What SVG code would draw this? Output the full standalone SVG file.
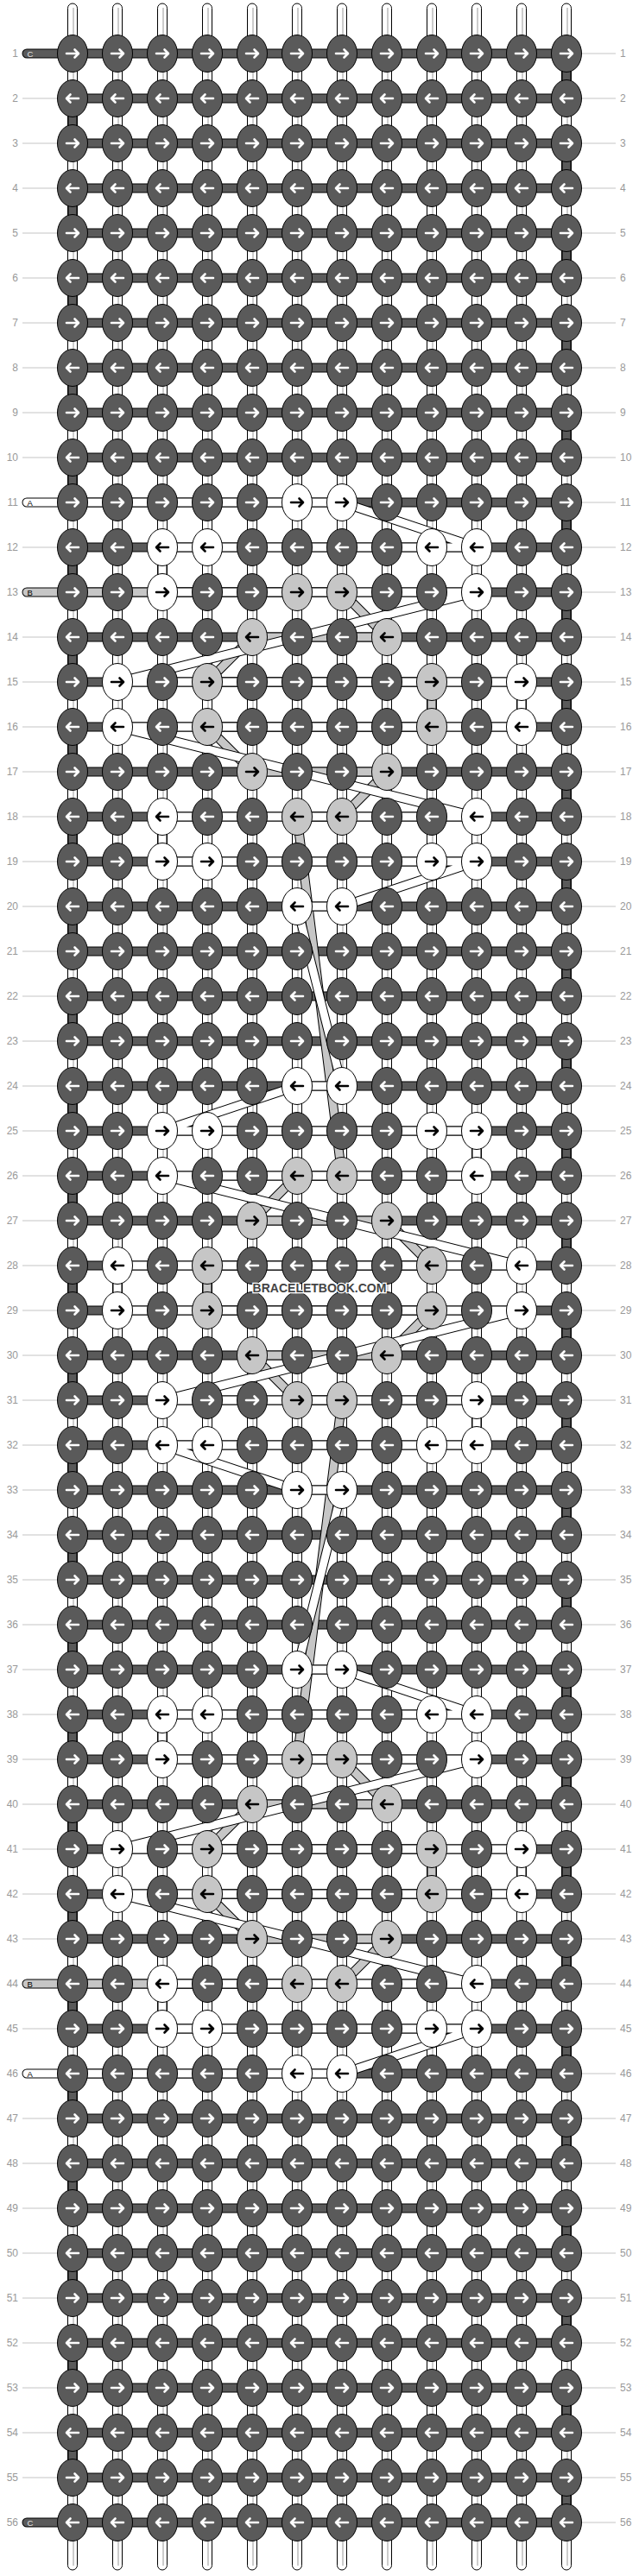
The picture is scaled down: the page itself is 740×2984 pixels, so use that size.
<svg xmlns="http://www.w3.org/2000/svg" width="740" height="2984" viewBox="0 0 740 2984">
<style>
.kd{fill:#5a5a5a;stroke:#000;stroke-width:1}
.kw{fill:#fff;stroke:#000;stroke-width:1}
.kg{fill:#c6c6c6;stroke:#000;stroke-width:1}
.aw{fill:none;stroke:#fff;stroke-width:2.6;stroke-linecap:round;stroke-linejoin:round}
.ab{fill:none;stroke:#000;stroke-width:2.6;stroke-linecap:round;stroke-linejoin:round}
.bo{fill:none;stroke:#000;stroke-width:11;stroke-linejoin:round;stroke-linecap:round}
.bf{fill:none;stroke-width:9;stroke-linejoin:round;stroke-linecap:round}
.lab{font-family:"Liberation Sans",Arial,sans-serif;font-size:12px;fill:#999}
.tl{font-family:"Liberation Sans",Arial,sans-serif;font-size:9.5px}
.ll{fill:none;stroke:#c4c4c4;stroke-width:1}
</style>
<defs>
<g id="vs"><rect x="-5.5" y="4" width="11" height="2973" rx="5.5" fill="#fff" stroke="#000"/><line x1="1" y1="9" x2="1" y2="2972" stroke="#bbb" stroke-width="1.5"/></g>
<g id="dR"><ellipse class="kd" rx="17.5" ry="21.5"/><path class="aw" d="M-7,0H6.5M2.5,-4.5L7,0L2.5,4.5"/></g>
<g id="dL"><ellipse class="kd" rx="17.5" ry="21.5"/><path class="aw" d="M7,0H-6.5M-2.5,-4.5L-7,0L-2.5,4.5"/></g>
<g id="wR"><ellipse class="kw" rx="17.5" ry="21.5"/><path class="ab" d="M-7,0H6.5M2.5,-4.5L7,0L2.5,4.5"/></g>
<g id="wL"><ellipse class="kw" rx="17.5" ry="21.5"/><path class="ab" d="M7,0H-6.5M-2.5,-4.5L-7,0L-2.5,4.5"/></g>
<g id="gR"><ellipse class="kg" rx="17.5" ry="21.5"/><path class="ab" d="M-7,0H6.5M2.5,-4.5L7,0L2.5,4.5"/></g>
<g id="gL"><ellipse class="kg" rx="17.5" ry="21.5"/><path class="ab" d="M7,0H-6.5M-2.5,-4.5L-7,0L-2.5,4.5"/></g>
<g id="DR"><use href="#dR" x="84"/><use href="#dR" x="136"/><use href="#dR" x="188"/><use href="#dR" x="240"/><use href="#dR" x="292"/><use href="#dR" x="344"/><use href="#dR" x="396"/><use href="#dR" x="448"/><use href="#dR" x="500"/><use href="#dR" x="552"/><use href="#dR" x="604"/><use href="#dR" x="656"/></g>
<g id="DL"><use href="#dL" x="84"/><use href="#dL" x="136"/><use href="#dL" x="188"/><use href="#dL" x="240"/><use href="#dL" x="292"/><use href="#dL" x="344"/><use href="#dL" x="396"/><use href="#dL" x="448"/><use href="#dL" x="500"/><use href="#dL" x="552"/><use href="#dL" x="604"/><use href="#dL" x="656"/></g>
<g id="S1R"><use href="#dR" x="84"/><use href="#dR" x="136"/><use href="#dR" x="188"/><use href="#dR" x="240"/><use href="#dR" x="292"/><use href="#wR" x="344"/><use href="#wR" x="396"/><use href="#dR" x="448"/><use href="#dR" x="500"/><use href="#dR" x="552"/><use href="#dR" x="604"/><use href="#dR" x="656"/></g>
<g id="S1L"><use href="#dL" x="84"/><use href="#dL" x="136"/><use href="#dL" x="188"/><use href="#dL" x="240"/><use href="#dL" x="292"/><use href="#wL" x="344"/><use href="#wL" x="396"/><use href="#dL" x="448"/><use href="#dL" x="500"/><use href="#dL" x="552"/><use href="#dL" x="604"/><use href="#dL" x="656"/></g>
<g id="S2R"><use href="#dR" x="84"/><use href="#dR" x="136"/><use href="#wR" x="188"/><use href="#wR" x="240"/><use href="#dR" x="292"/><use href="#dR" x="344"/><use href="#dR" x="396"/><use href="#dR" x="448"/><use href="#wR" x="500"/><use href="#wR" x="552"/><use href="#dR" x="604"/><use href="#dR" x="656"/></g>
<g id="S2L"><use href="#dL" x="84"/><use href="#dL" x="136"/><use href="#wL" x="188"/><use href="#wL" x="240"/><use href="#dL" x="292"/><use href="#dL" x="344"/><use href="#dL" x="396"/><use href="#dL" x="448"/><use href="#wL" x="500"/><use href="#wL" x="552"/><use href="#dL" x="604"/><use href="#dL" x="656"/></g>
<g id="S3R"><use href="#dR" x="84"/><use href="#dR" x="136"/><use href="#wR" x="188"/><use href="#dR" x="240"/><use href="#dR" x="292"/><use href="#gR" x="344"/><use href="#gR" x="396"/><use href="#dR" x="448"/><use href="#dR" x="500"/><use href="#wR" x="552"/><use href="#dR" x="604"/><use href="#dR" x="656"/></g>
<g id="S3L"><use href="#dL" x="84"/><use href="#dL" x="136"/><use href="#wL" x="188"/><use href="#dL" x="240"/><use href="#dL" x="292"/><use href="#gL" x="344"/><use href="#gL" x="396"/><use href="#dL" x="448"/><use href="#dL" x="500"/><use href="#wL" x="552"/><use href="#dL" x="604"/><use href="#dL" x="656"/></g>
<g id="S4R"><use href="#dR" x="84"/><use href="#dR" x="136"/><use href="#dR" x="188"/><use href="#dR" x="240"/><use href="#gR" x="292"/><use href="#dR" x="344"/><use href="#dR" x="396"/><use href="#gR" x="448"/><use href="#dR" x="500"/><use href="#dR" x="552"/><use href="#dR" x="604"/><use href="#dR" x="656"/></g>
<g id="S4L"><use href="#dL" x="84"/><use href="#dL" x="136"/><use href="#dL" x="188"/><use href="#dL" x="240"/><use href="#gL" x="292"/><use href="#dL" x="344"/><use href="#dL" x="396"/><use href="#gL" x="448"/><use href="#dL" x="500"/><use href="#dL" x="552"/><use href="#dL" x="604"/><use href="#dL" x="656"/></g>
<g id="S5R"><use href="#dR" x="84"/><use href="#wR" x="136"/><use href="#dR" x="188"/><use href="#gR" x="240"/><use href="#dR" x="292"/><use href="#dR" x="344"/><use href="#dR" x="396"/><use href="#dR" x="448"/><use href="#gR" x="500"/><use href="#dR" x="552"/><use href="#wR" x="604"/><use href="#dR" x="656"/></g>
<g id="S5L"><use href="#dL" x="84"/><use href="#wL" x="136"/><use href="#dL" x="188"/><use href="#gL" x="240"/><use href="#dL" x="292"/><use href="#dL" x="344"/><use href="#dL" x="396"/><use href="#dL" x="448"/><use href="#gL" x="500"/><use href="#dL" x="552"/><use href="#wL" x="604"/><use href="#dL" x="656"/></g>
</defs>
<rect width="740" height="2984" fill="#fff"/>
<g id="vertical-strings">
<use href="#vs" x="84"/><use href="#vs" x="136"/><use href="#vs" x="188"/><use href="#vs" x="240"/><use href="#vs" x="292"/><use href="#vs" x="344"/><use href="#vs" x="396"/><use href="#vs" x="448"/><use href="#vs" x="500"/><use href="#vs" x="552"/><use href="#vs" x="604"/><use href="#vs" x="656"/>
</g>
<g id="label-lines">
<path class="ll" d="M26,114H66M26,166H66M26,218H66M26,270H66M26,322H66M26,374H66M26,426H66M26,478H66M26,530H66M26,634H66M26,738H66M26,790H66M26,842H66M26,894H66M26,946H66M26,998H66M26,1050H66M26,1102H66M26,1154H66M26,1206H66M26,1258H66M26,1310H66M26,1362H66M26,1414H66M26,1466H66M26,1518H66M26,1570H66M26,1622H66M26,1674H66M26,1726H66M26,1778H66M26,1830H66M26,1882H66M26,1934H66M26,1986H66M26,2038H66M26,2090H66M26,2142H66M26,2194H66M26,2246H66M26,2350H66M26,2454H66M26,2506H66M26,2558H66M26,2610H66M26,2662H66M26,2714H66M26,2766H66M26,2818H66M26,2870H66"/>
<path class="ll" d="M674,62H713M674,114H713M674,166H713M674,218H713M674,270H713M674,322H713M674,374H713M674,426H713M674,478H713M674,530H713M674,582H713M674,634H713M674,686H713M674,738H713M674,790H713M674,842H713M674,894H713M674,946H713M674,998H713M674,1050H713M674,1102H713M674,1154H713M674,1206H713M674,1258H713M674,1310H713M674,1362H713M674,1414H713M674,1466H713M674,1518H713M674,1570H713M674,1622H713M674,1674H713M674,1726H713M674,1778H713M674,1830H713M674,1882H713M674,1934H713M674,1986H713M674,2038H713M674,2090H713M674,2142H713M674,2194H713M674,2246H713M674,2298H713M674,2350H713M674,2402H713M674,2454H713M674,2506H713M674,2558H713M674,2610H713M674,2662H713M674,2714H713M674,2766H713M674,2818H713M674,2870H713M674,2922H713"/>
</g>
<g id="connectors">
<g id="string-C">
<path class="bo" d="M31,62H656V114H84V166H656V218H84V270H656V322H84V374H656V426H84V478H656V530H84V582H656V634H84V686H656V738H84V790H656V842H84V894H656V946H84V998H656V1050H84V1102H656V1154H84V1206H656V1258H84V1310H656V1362H84V1414H656V1466H84V1518H656V1570H84V1622H656V1674H84V1726H656V1778H84V1830H656V1882H84V1934H656V1986H84V2038H656V2090H84V2142H656V2194H84V2246H656V2298H84V2350H656V2402H84V2454H656V2506H84V2558H656V2610H84V2662H656V2714H84V2766H656V2818H84V2870H656V2922H31"/>
<path class="bf" stroke="#5a5a5a" d="M31,62H656V114H84V166H656V218H84V270H656V322H84V374H656V426H84V478H656V530H84V582H656V634H84V686H656V738H84V790H656V842H84V894H656V946H84V998H656V1050H84V1102H656V1154H84V1206H656V1258H84V1310H656V1362H84V1414H656V1466H84V1518H656V1570H84V1622H656V1674H84V1726H656V1778H84V1830H656V1882H84V1934H656V1986H84V2038H656V2090H84V2142H656V2194H84V2246H656V2298H84V2350H656V2402H84V2454H656V2506H84V2558H656V2610H84V2662H656V2714H84V2766H656V2818H84V2870H656V2922H31"/>
</g>
<g id="string-B">
<path class="bo" d="M31,686H396L448,738H292L240,790H500V842H240L292,894H448L396,946H344L396,1362H344L292,1414H448L500,1466H240V1518H500L448,1570H292L344,1622H396L344,2038H396L448,2090H292L240,2142H500V2194H240L292,2246H448L396,2298H31"/>
<path class="bf" stroke="#c6c6c6" d="M31,686H396L448,738H292L240,790H500V842H240L292,894H448L396,946H344L396,1362H344L292,1414H448L500,1466H240V1518H500L448,1570H292L344,1622H396L344,2038H396L448,2090H292L240,2142H500V2194H240L292,2246H448L396,2298H31"/>
</g>
<g id="string-A">
<path class="bo" d="M31,582H396L552,634H188V686H552L136,790H604V842H136L552,946H188V998H552L396,1050H344L396,1258H344L188,1310H552V1362H188L604,1466H136V1518H604L188,1622H552V1674H188L344,1726H396L344,1934H396L552,1986H188V2038H552L136,2142H604V2194H136L552,2298H188V2350H552L396,2402H31"/>
<path class="bf" stroke="#fff" d="M31,582H396L552,634H188V686H552L136,790H604V842H136L552,946H188V998H552L396,1050H344L396,1258H344L188,1310H552V1362H188L604,1466H136V1518H604L188,1622H552V1674H188L344,1726H396L344,1934H396L552,1986H188V2038H552L136,2142H604V2194H136L552,2298H188V2350H552L396,2402H31"/>
</g>
</g>
<g id="tabs">
<text class="tl" x="31.5" y="65.5" fill="#e6e6e6">C</text>
<text class="tl" x="31.5" y="585.5" fill="#000">A</text>
<text class="tl" x="31.5" y="689.5" fill="#000">B</text>
<text class="tl" x="31.5" y="2301.5" fill="#000">B</text>
<text class="tl" x="31.5" y="2405.5" fill="#000">A</text>
<text class="tl" x="31.5" y="2925.5" fill="#e6e6e6">C</text>
</g>
<g id="knots">
<g id="row-1"><use href="#DR" y="62"/></g>
<g id="row-2"><use href="#DL" y="114"/></g>
<g id="row-3"><use href="#DR" y="166"/></g>
<g id="row-4"><use href="#DL" y="218"/></g>
<g id="row-5"><use href="#DR" y="270"/></g>
<g id="row-6"><use href="#DL" y="322"/></g>
<g id="row-7"><use href="#DR" y="374"/></g>
<g id="row-8"><use href="#DL" y="426"/></g>
<g id="row-9"><use href="#DR" y="478"/></g>
<g id="row-10"><use href="#DL" y="530"/></g>
<g id="row-11"><use href="#S1R" y="582"/></g>
<g id="row-12"><use href="#S2L" y="634"/></g>
<g id="row-13"><use href="#S3R" y="686"/></g>
<g id="row-14"><use href="#S4L" y="738"/></g>
<g id="row-15"><use href="#S5R" y="790"/></g>
<g id="row-16"><use href="#S5L" y="842"/></g>
<g id="row-17"><use href="#S4R" y="894"/></g>
<g id="row-18"><use href="#S3L" y="946"/></g>
<g id="row-19"><use href="#S2R" y="998"/></g>
<g id="row-20"><use href="#S1L" y="1050"/></g>
<g id="row-21"><use href="#DR" y="1102"/></g>
<g id="row-22"><use href="#DL" y="1154"/></g>
<g id="row-23"><use href="#DR" y="1206"/></g>
<g id="row-24"><use href="#S1L" y="1258"/></g>
<g id="row-25"><use href="#S2R" y="1310"/></g>
<g id="row-26"><use href="#S3L" y="1362"/></g>
<g id="row-27"><use href="#S4R" y="1414"/></g>
<g id="row-28"><use href="#S5L" y="1466"/></g>
<g id="row-29"><use href="#S5R" y="1518"/></g>
<g id="row-30"><use href="#S4L" y="1570"/></g>
<g id="row-31"><use href="#S3R" y="1622"/></g>
<g id="row-32"><use href="#S2L" y="1674"/></g>
<g id="row-33"><use href="#S1R" y="1726"/></g>
<g id="row-34"><use href="#DL" y="1778"/></g>
<g id="row-35"><use href="#DR" y="1830"/></g>
<g id="row-36"><use href="#DL" y="1882"/></g>
<g id="row-37"><use href="#S1R" y="1934"/></g>
<g id="row-38"><use href="#S2L" y="1986"/></g>
<g id="row-39"><use href="#S3R" y="2038"/></g>
<g id="row-40"><use href="#S4L" y="2090"/></g>
<g id="row-41"><use href="#S5R" y="2142"/></g>
<g id="row-42"><use href="#S5L" y="2194"/></g>
<g id="row-43"><use href="#S4R" y="2246"/></g>
<g id="row-44"><use href="#S3L" y="2298"/></g>
<g id="row-45"><use href="#S2R" y="2350"/></g>
<g id="row-46"><use href="#S1L" y="2402"/></g>
<g id="row-47"><use href="#DR" y="2454"/></g>
<g id="row-48"><use href="#DL" y="2506"/></g>
<g id="row-49"><use href="#DR" y="2558"/></g>
<g id="row-50"><use href="#DL" y="2610"/></g>
<g id="row-51"><use href="#DR" y="2662"/></g>
<g id="row-52"><use href="#DL" y="2714"/></g>
<g id="row-53"><use href="#DR" y="2766"/></g>
<g id="row-54"><use href="#DL" y="2818"/></g>
<g id="row-55"><use href="#DR" y="2870"/></g>
<g id="row-56"><use href="#DL" y="2922"/></g>
</g>
<g id="labels-left" class="lab" text-anchor="end">
<text x="21" y="66">1</text><text x="21" y="118">2</text><text x="21" y="170">3</text><text x="21" y="222">4</text><text x="21" y="274">5</text><text x="21" y="326">6</text><text x="21" y="378">7</text><text x="21" y="430">8</text><text x="21" y="482">9</text><text x="21" y="534">10</text>
<text x="21" y="586">11</text><text x="21" y="638">12</text><text x="21" y="690">13</text><text x="21" y="742">14</text><text x="21" y="794">15</text><text x="21" y="846">16</text><text x="21" y="898">17</text><text x="21" y="950">18</text><text x="21" y="1002">19</text><text x="21" y="1054">20</text>
<text x="21" y="1106">21</text><text x="21" y="1158">22</text><text x="21" y="1210">23</text><text x="21" y="1262">24</text><text x="21" y="1314">25</text><text x="21" y="1366">26</text><text x="21" y="1418">27</text><text x="21" y="1470">28</text><text x="21" y="1522">29</text><text x="21" y="1574">30</text>
<text x="21" y="1626">31</text><text x="21" y="1678">32</text><text x="21" y="1730">33</text><text x="21" y="1782">34</text><text x="21" y="1834">35</text><text x="21" y="1886">36</text><text x="21" y="1938">37</text><text x="21" y="1990">38</text><text x="21" y="2042">39</text><text x="21" y="2094">40</text>
<text x="21" y="2146">41</text><text x="21" y="2198">42</text><text x="21" y="2250">43</text><text x="21" y="2302">44</text><text x="21" y="2354">45</text><text x="21" y="2406">46</text><text x="21" y="2458">47</text><text x="21" y="2510">48</text><text x="21" y="2562">49</text><text x="21" y="2614">50</text>
<text x="21" y="2666">51</text><text x="21" y="2718">52</text><text x="21" y="2770">53</text><text x="21" y="2822">54</text><text x="21" y="2874">55</text><text x="21" y="2926">56</text>
</g>
<g id="labels-right" class="lab">
<text x="718" y="66">1</text><text x="718" y="118">2</text><text x="718" y="170">3</text><text x="718" y="222">4</text><text x="718" y="274">5</text><text x="718" y="326">6</text><text x="718" y="378">7</text><text x="718" y="430">8</text><text x="718" y="482">9</text><text x="718" y="534">10</text>
<text x="718" y="586">11</text><text x="718" y="638">12</text><text x="718" y="690">13</text><text x="718" y="742">14</text><text x="718" y="794">15</text><text x="718" y="846">16</text><text x="718" y="898">17</text><text x="718" y="950">18</text><text x="718" y="1002">19</text><text x="718" y="1054">20</text>
<text x="718" y="1106">21</text><text x="718" y="1158">22</text><text x="718" y="1210">23</text><text x="718" y="1262">24</text><text x="718" y="1314">25</text><text x="718" y="1366">26</text><text x="718" y="1418">27</text><text x="718" y="1470">28</text><text x="718" y="1522">29</text><text x="718" y="1574">30</text>
<text x="718" y="1626">31</text><text x="718" y="1678">32</text><text x="718" y="1730">33</text><text x="718" y="1782">34</text><text x="718" y="1834">35</text><text x="718" y="1886">36</text><text x="718" y="1938">37</text><text x="718" y="1990">38</text><text x="718" y="2042">39</text><text x="718" y="2094">40</text>
<text x="718" y="2146">41</text><text x="718" y="2198">42</text><text x="718" y="2250">43</text><text x="718" y="2302">44</text><text x="718" y="2354">45</text><text x="718" y="2406">46</text><text x="718" y="2458">47</text><text x="718" y="2510">48</text><text x="718" y="2562">49</text><text x="718" y="2614">50</text>
<text x="718" y="2666">51</text><text x="718" y="2718">52</text><text x="718" y="2770">53</text><text x="718" y="2822">54</text><text x="718" y="2874">55</text><text x="718" y="2926">56</text>
</g>
<text id="watermark" x="370" y="1497" text-anchor="middle" font-family="Liberation Sans, Arial, sans-serif" font-weight="bold" font-size="14" fill="#444" stroke="#fff" stroke-width="2.5" paint-order="stroke">BRACELETBOOK.COM</text>
</svg>
